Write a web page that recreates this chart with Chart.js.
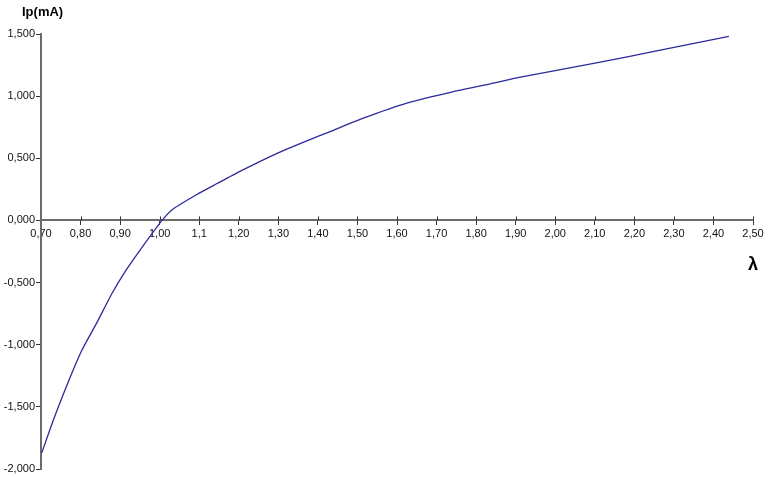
<!DOCTYPE html>
<html>
<head>
<meta charset="utf-8">
<script src="https://cdn.jsdelivr.net/npm/chart.js@4"></script>
<style>
  html, body { margin: 0; padding: 0; background: #fff; }
  #wrap { position: relative; width: 772px; height: 477px; }
  .lbl { position: absolute; font-family: "Liberation Sans", Arial, sans-serif; font-weight: bold; color: #000; }
  #ylbl { left: 22px; top: 4px; font-size: 13px; }
  #xlbl { left: 748px; top: 254px; font-size: 18px; }
</style>
</head>
<body>
<div id="wrap">
  <canvas id="grafico" width="772" height="477"></canvas>
  <div class="lbl" id="ylbl">Ip(mA)</div>
  <div class="lbl" id="xlbl">λ</div>
</div>
<script>
// lambda (x) e corrente Ip (y)
const lambda = [0.702, 0.732, 0.774, 0.803, 0.842, 0.879, 0.915, 0.951, 1.006, 1.034, 1.093, 1.144, 1.203, 1.297, 1.372, 1.431, 1.515, 1.625, 1.743, 1.836, 1.912, 2.00, 2.114, 2.25, 2.439];
const ip     = [-1.87, -1.60, -1.26, -1.046, -0.818, -0.59, -0.40, -0.236, 0.00, 0.092, 0.207, 0.295, 0.395, 0.54, 0.64, 0.715, 0.823, 0.944, 1.037, 1.099, 1.153, 1.206, 1.274, 1.36, 1.481];

const xTickValues = [0.7, 0.8, 0.9, 1.0, 1.1, 1.2, 1.3, 1.4, 1.5, 1.6, 1.7, 1.8, 1.9, 2.0, 2.1, 2.2, 2.3, 2.4, 2.5];
const xTickLabels = ['0,70', '0,80', '0,90', '1,00', '1,1', '1,20', '1,30', '1,40', '1,50', '1,60', '1,70', '1,80', '1,90', '2,00', '2,10', '2,20', '2,30', '2,40', '2,50'];
const yTickValues = [-2, -1.5, -1, -0.5, 0, 0.5, 1, 1.5];
const yTickLabels = ['-2,000', '-1,500', '-1,000', '-0,500', '0,000', '0,500', '1,000', '1,500'];

const COR_EIXO = '#6b6b6b';
const fonteTicks = { family: '"Liberation Sans", Arial, sans-serif', size: 11 };

// marcas do eixo x cruzando a linha (parte de cima)
const marcasAcima = {
    id: 'marcasAcima',
    afterDatasetsDraw(chart) {
        const sx = chart.scales.x, sy = chart.scales.y;
        const y0 = sy.getPixelForValue(0);
        const ctx = chart.ctx;
        ctx.save();
        ctx.strokeStyle = '#333';
        ctx.lineWidth = 1;
        sx.ticks.forEach((t, i) => {
            if (i === 0) return;
            const px = Math.round(sx.getPixelForValue(t.value)) + 0.5;
            ctx.beginPath();
            ctx.moveTo(px, y0 - 4);
            ctx.lineTo(px, y0);
            ctx.stroke();
        });
        ctx.restore();
    }
};

new Chart(document.getElementById('grafico'), {
    type: 'scatter',
    data: {
        datasets: [{
            data: lambda.map((v, i) => ({ x: v, y: ip[i] })),
            showLine: true,
            borderColor: '#2b2b9c',
            borderWidth: 1.3,
            pointRadius: 0,
            tension: 0.2,
            fill: false
        }]
    },
    options: {
        responsive: false,
        animation: false,
        layout: { padding: { left: 0, right: 19, top: 34, bottom: 8 } },
        plugins: { legend: { display: false }, tooltip: { enabled: false } },
        scales: {
            x: {
                type: 'linear',
                min: 0.7,
                max: 2.5,
                position: { y: 0 },
                afterBuildTicks: s => { s.ticks = xTickValues.map(v => ({ value: v })); },
                ticks: {
                    autoSkip: false,
                    maxRotation: 0,
                    padding: 3,
                    color: '#111',
                    font: fonteTicks,
                    callback: (v, i) => xTickLabels[i]
                },
                grid: { drawOnChartArea: false, tickLength: 4, color: '#333' },
                border: { color: COR_EIXO, width: 2 }
            },
            y: {
                type: 'linear',
                min: -2,
                max: 1.5,
                afterBuildTicks: s => { s.ticks = yTickValues.map(v => ({ value: v })); },
                afterFit: s => { s.width = 41; },
                ticks: {
                    autoSkip: false,
                    padding: 1,
                    color: '#111',
                    font: fonteTicks,
                    callback: (v, i) => yTickLabels[i]
                },
                grid: { drawOnChartArea: false, tickLength: 5, color: '#333' },
                border: { color: COR_EIXO, width: 2 }
            }
        }
    },
    plugins: [marcasAcima]
});
</script>
</body>
</html>
